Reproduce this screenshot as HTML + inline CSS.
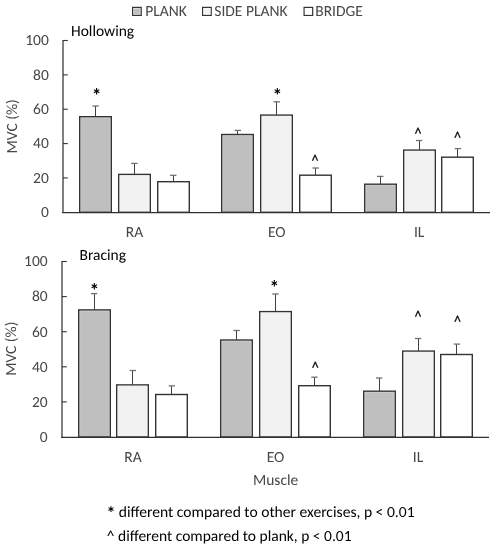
<!DOCTYPE html><html><head><meta charset="utf-8"><style>html,body{margin:0;padding:0;background:#fff;}svg{display:block;text-rendering:geometricPrecision}</style></head><body>
<svg width="495" height="550" viewBox="0 0 495 550" font-family='"Carlito", "Liberation Sans", sans-serif'>
<rect width="495" height="550" fill="#fff"/>
<rect x="132.6" y="7.4" width="8.6" height="8" fill="#bfbfbf" stroke="#333" stroke-width="1.2"/>
<rect x="133.70" y="8.5" width="6.4" height="5.8" fill="none" stroke="#fff" stroke-width="0.7" opacity="0.6"/>
<text textLength="41.56" lengthAdjust="spacingAndGlyphs" transform="translate(145.30 15.50) scale(1 1.0)" font-size="15.5" fill="#474747">PLANK</text>
<rect x="202.6" y="7.4" width="8.6" height="8" fill="#f2f2f2" stroke="#333" stroke-width="1.2"/>
<rect x="203.70" y="8.5" width="6.4" height="5.8" fill="none" stroke="#fff" stroke-width="0.7" opacity="0.6"/>
<text textLength="73.19" lengthAdjust="spacingAndGlyphs" transform="translate(214.30 15.50) scale(1 1.0)" font-size="15.5" fill="#474747">SIDE PLANK</text>
<rect x="304.1" y="7.4" width="8.6" height="8" fill="#ffffff" stroke="#333" stroke-width="1.2"/>
<rect x="305.20" y="8.5" width="6.4" height="5.8" fill="none" stroke="#fff" stroke-width="0.7" opacity="0.6"/>
<text textLength="47.64" lengthAdjust="spacingAndGlyphs" transform="translate(315.20 15.50) scale(1 1.0)" font-size="15.5" fill="#474747">BRIDGE</text>
<text textLength="7.86" lengthAdjust="spacingAndGlyphs" transform="translate(48.80 217.10) scale(1 1.0)" font-size="15.5" fill="#474747" text-anchor="end">0</text>
<text textLength="15.72" lengthAdjust="spacingAndGlyphs" transform="translate(48.80 182.74) scale(1 1.0)" font-size="15.5" fill="#474747" text-anchor="end">20</text>
<text textLength="15.72" lengthAdjust="spacingAndGlyphs" transform="translate(48.80 148.38) scale(1 1.0)" font-size="15.5" fill="#474747" text-anchor="end">40</text>
<text textLength="15.72" lengthAdjust="spacingAndGlyphs" transform="translate(48.80 114.02) scale(1 1.0)" font-size="15.5" fill="#474747" text-anchor="end">60</text>
<text textLength="15.72" lengthAdjust="spacingAndGlyphs" transform="translate(48.80 79.66) scale(1 1.0)" font-size="15.5" fill="#474747" text-anchor="end">80</text>
<text textLength="23.58" lengthAdjust="spacingAndGlyphs" transform="translate(48.80 45.30) scale(1 1.0)" font-size="15.5" fill="#474747" text-anchor="end">100</text>
<line x1="63.0" x2="63.0" y1="39.90" y2="212.90" stroke="#7a7a7a" stroke-width="1.9"/>
<line x1="63.0" x2="67.8" y1="177.94" y2="177.94" stroke="#333" stroke-width="1.1"/>
<line x1="63.0" x2="67.8" y1="143.58" y2="143.58" stroke="#333" stroke-width="1.1"/>
<line x1="63.0" x2="67.8" y1="109.22" y2="109.22" stroke="#333" stroke-width="1.1"/>
<line x1="63.0" x2="67.8" y1="74.86" y2="74.86" stroke="#333" stroke-width="1.1"/>
<line x1="63.0" x2="67.8" y1="40.50" y2="40.50" stroke="#333" stroke-width="1.1"/>
<line x1="95.50" x2="95.50" y1="106.00" y2="116.50" stroke="#404040" stroke-width="1.0"/>
<line x1="92.35" x2="98.75" y1="106.00" y2="106.00" stroke="#707070" stroke-width="1.3"/>
<rect x="79.70" y="116.70" width="31.60" height="95.60" fill="#bfbfbf" stroke="#333" stroke-width="1.4"/>
<path d="M80.80 211.70V117.80H110.20V211.70" fill="none" stroke="#fff" stroke-width="0.8" opacity="0.3"/>
<line x1="134.50" x2="134.50" y1="163.40" y2="174.20" stroke="#404040" stroke-width="1.0"/>
<line x1="131.20" x2="137.60" y1="163.40" y2="163.40" stroke="#707070" stroke-width="1.3"/>
<rect x="118.70" y="174.40" width="31.60" height="37.90" fill="#f2f2f2" stroke="#333" stroke-width="1.4"/>
<path d="M119.80 211.70V175.50H149.20V211.70" fill="none" stroke="#fff" stroke-width="0.8" opacity="0.3"/>
<line x1="173.50" x2="173.50" y1="175.30" y2="181.50" stroke="#404040" stroke-width="1.0"/>
<line x1="170.05" x2="176.45" y1="175.30" y2="175.30" stroke="#707070" stroke-width="1.3"/>
<rect x="157.70" y="181.70" width="31.60" height="30.60" fill="#ffffff" stroke="#333" stroke-width="1.4"/>
<text textLength="17.39" lengthAdjust="spacingAndGlyphs" transform="translate(134.40 236.90) scale(1 1.0)" font-size="15.5" fill="#474747" text-anchor="middle">RA</text>
<line x1="237.50" x2="237.50" y1="130.40" y2="134.30" stroke="#404040" stroke-width="1.0"/>
<line x1="234.70" x2="241.10" y1="130.40" y2="130.40" stroke="#707070" stroke-width="1.3"/>
<rect x="221.70" y="134.50" width="31.60" height="77.80" fill="#bfbfbf" stroke="#333" stroke-width="1.4"/>
<path d="M222.80 211.70V135.60H252.20V211.70" fill="none" stroke="#fff" stroke-width="0.8" opacity="0.3"/>
<line x1="276.50" x2="276.50" y1="101.80" y2="114.90" stroke="#404040" stroke-width="1.0"/>
<line x1="273.55" x2="279.95" y1="101.80" y2="101.80" stroke="#707070" stroke-width="1.3"/>
<rect x="260.70" y="115.10" width="31.60" height="97.20" fill="#f2f2f2" stroke="#333" stroke-width="1.4"/>
<path d="M261.80 211.70V116.20H291.20V211.70" fill="none" stroke="#fff" stroke-width="0.8" opacity="0.3"/>
<line x1="315.50" x2="315.50" y1="168.00" y2="175.00" stroke="#404040" stroke-width="1.0"/>
<line x1="312.40" x2="318.80" y1="168.00" y2="168.00" stroke="#707070" stroke-width="1.3"/>
<rect x="299.70" y="175.20" width="31.60" height="37.10" fill="#ffffff" stroke="#333" stroke-width="1.4"/>
<text textLength="17.59" lengthAdjust="spacingAndGlyphs" transform="translate(276.75 236.90) scale(1 1.0)" font-size="15.5" fill="#474747" text-anchor="middle">EO</text>
<line x1="380.50" x2="380.50" y1="176.40" y2="184.00" stroke="#404040" stroke-width="1.0"/>
<line x1="377.05" x2="383.45" y1="176.40" y2="176.40" stroke="#707070" stroke-width="1.3"/>
<rect x="364.70" y="184.20" width="31.60" height="28.10" fill="#bfbfbf" stroke="#333" stroke-width="1.4"/>
<path d="M365.80 211.70V185.30H395.20V211.70" fill="none" stroke="#fff" stroke-width="0.8" opacity="0.3"/>
<line x1="419.50" x2="419.50" y1="140.50" y2="149.90" stroke="#404040" stroke-width="1.0"/>
<line x1="415.90" x2="422.30" y1="140.50" y2="140.50" stroke="#707070" stroke-width="1.3"/>
<rect x="403.70" y="150.10" width="31.60" height="62.20" fill="#f2f2f2" stroke="#333" stroke-width="1.4"/>
<path d="M404.80 211.70V151.20H434.20V211.70" fill="none" stroke="#fff" stroke-width="0.8" opacity="0.3"/>
<line x1="457.50" x2="457.50" y1="148.60" y2="157.00" stroke="#404040" stroke-width="1.0"/>
<line x1="454.75" x2="461.15" y1="148.60" y2="148.60" stroke="#707070" stroke-width="1.3"/>
<rect x="441.70" y="157.20" width="31.60" height="55.10" fill="#ffffff" stroke="#333" stroke-width="1.4"/>
<text textLength="10.42" lengthAdjust="spacingAndGlyphs" transform="translate(419.10 236.90) scale(1 1.0)" font-size="15.5" fill="#474747" text-anchor="middle">IL</text>
<text textLength="9.72" lengthAdjust="spacingAndGlyphs" x="96.50" y="102.30" font-size="19.5" font-weight="bold" fill="#000" text-anchor="middle">*</text>
<text textLength="9.72" lengthAdjust="spacingAndGlyphs" x="277.40" y="102.20" font-size="19.5" font-weight="bold" fill="#000" text-anchor="middle">*</text>
<text textLength="7.97" lengthAdjust="spacingAndGlyphs" transform="translate(315.10 166.40) scale(0.88 1.05)" font-size="16" stroke="#000" stroke-width="0.3" fill="#000" text-anchor="middle">^</text>
<text textLength="7.97" lengthAdjust="spacingAndGlyphs" transform="translate(417.90 138.80) scale(0.88 1.05)" font-size="16" stroke="#000" stroke-width="0.3" fill="#000" text-anchor="middle">^</text>
<text textLength="7.97" lengthAdjust="spacingAndGlyphs" transform="translate(457.40 143.10) scale(0.88 1.05)" font-size="16" stroke="#000" stroke-width="0.3" fill="#000" text-anchor="middle">^</text>
<line x1="62.1" x2="490" y1="212.55" y2="212.55" stroke="#303030" stroke-width="1.25"/>
<text textLength="63.14" lengthAdjust="spacingAndGlyphs" transform="translate(71.00 36.00) scale(1 1.0)" font-size="15.5" fill="#000">Hollowing</text>
<text textLength="54.17" lengthAdjust="spacingAndGlyphs" transform="translate(17.2 126.40) rotate(-90) scale(1 1.0)" x="0" y="0" font-size="15.5" fill="#474747" text-anchor="middle">MVC (%)</text>
<text textLength="7.86" lengthAdjust="spacingAndGlyphs" transform="translate(47.60 441.80) scale(1 1.0)" font-size="15.5" fill="#474747" text-anchor="end">0</text>
<text textLength="15.72" lengthAdjust="spacingAndGlyphs" transform="translate(47.60 406.70) scale(1 1.0)" font-size="15.5" fill="#474747" text-anchor="end">20</text>
<text textLength="15.72" lengthAdjust="spacingAndGlyphs" transform="translate(47.60 371.60) scale(1 1.0)" font-size="15.5" fill="#474747" text-anchor="end">40</text>
<text textLength="15.72" lengthAdjust="spacingAndGlyphs" transform="translate(47.60 336.50) scale(1 1.0)" font-size="15.5" fill="#474747" text-anchor="end">60</text>
<text textLength="15.72" lengthAdjust="spacingAndGlyphs" transform="translate(47.60 301.40) scale(1 1.0)" font-size="15.5" fill="#474747" text-anchor="end">80</text>
<text textLength="23.58" lengthAdjust="spacingAndGlyphs" transform="translate(47.60 266.30) scale(1 1.0)" font-size="15.5" fill="#474747" text-anchor="end">100</text>
<line x1="62.0" x2="62.0" y1="260.90" y2="437.60" stroke="#7a7a7a" stroke-width="1.9"/>
<line x1="62.0" x2="66.8" y1="401.90" y2="401.90" stroke="#333" stroke-width="1.1"/>
<line x1="62.0" x2="66.8" y1="366.80" y2="366.80" stroke="#333" stroke-width="1.1"/>
<line x1="62.0" x2="66.8" y1="331.70" y2="331.70" stroke="#333" stroke-width="1.1"/>
<line x1="62.0" x2="66.8" y1="296.60" y2="296.60" stroke="#333" stroke-width="1.1"/>
<line x1="62.0" x2="66.8" y1="261.50" y2="261.50" stroke="#333" stroke-width="1.1"/>
<line x1="94.50" x2="94.50" y1="293.60" y2="309.70" stroke="#404040" stroke-width="1.0"/>
<line x1="90.85" x2="97.25" y1="293.60" y2="293.60" stroke="#707070" stroke-width="1.3"/>
<rect x="78.70" y="309.90" width="31.60" height="127.10" fill="#bfbfbf" stroke="#333" stroke-width="1.4"/>
<path d="M79.80 436.40V311.00H109.20V436.40" fill="none" stroke="#fff" stroke-width="0.8" opacity="0.3"/>
<line x1="132.50" x2="132.50" y1="370.50" y2="384.70" stroke="#404040" stroke-width="1.0"/>
<line x1="129.75" x2="136.15" y1="370.50" y2="370.50" stroke="#707070" stroke-width="1.3"/>
<rect x="116.70" y="384.90" width="31.60" height="52.10" fill="#f2f2f2" stroke="#333" stroke-width="1.4"/>
<path d="M117.80 436.40V386.00H147.20V436.40" fill="none" stroke="#fff" stroke-width="0.8" opacity="0.3"/>
<line x1="171.50" x2="171.50" y1="385.90" y2="394.30" stroke="#404040" stroke-width="1.0"/>
<line x1="168.65" x2="175.05" y1="385.90" y2="385.90" stroke="#707070" stroke-width="1.3"/>
<rect x="155.70" y="394.50" width="31.60" height="42.50" fill="#ffffff" stroke="#333" stroke-width="1.4"/>
<text textLength="17.39" lengthAdjust="spacingAndGlyphs" transform="translate(132.95 461.90) scale(1 1.0)" font-size="15.5" fill="#474747" text-anchor="middle">RA</text>
<line x1="236.50" x2="236.50" y1="330.50" y2="339.80" stroke="#404040" stroke-width="1.0"/>
<line x1="233.40" x2="239.80" y1="330.50" y2="330.50" stroke="#707070" stroke-width="1.3"/>
<rect x="220.70" y="340.00" width="31.60" height="97.00" fill="#bfbfbf" stroke="#333" stroke-width="1.4"/>
<path d="M221.80 436.40V341.10H251.20V436.40" fill="none" stroke="#fff" stroke-width="0.8" opacity="0.3"/>
<line x1="275.50" x2="275.50" y1="294.00" y2="311.40" stroke="#404040" stroke-width="1.0"/>
<line x1="272.30" x2="278.70" y1="294.00" y2="294.00" stroke="#707070" stroke-width="1.3"/>
<rect x="259.70" y="311.60" width="31.60" height="125.40" fill="#f2f2f2" stroke="#333" stroke-width="1.4"/>
<path d="M260.80 436.40V312.70H290.20V436.40" fill="none" stroke="#fff" stroke-width="0.8" opacity="0.3"/>
<line x1="314.50" x2="314.50" y1="377.20" y2="385.50" stroke="#404040" stroke-width="1.0"/>
<line x1="311.20" x2="317.60" y1="377.20" y2="377.20" stroke="#707070" stroke-width="1.3"/>
<rect x="298.70" y="385.70" width="31.60" height="51.30" fill="#ffffff" stroke="#333" stroke-width="1.4"/>
<text textLength="17.59" lengthAdjust="spacingAndGlyphs" transform="translate(275.50 461.90) scale(1 1.0)" font-size="15.5" fill="#474747" text-anchor="middle">EO</text>
<line x1="379.50" x2="379.50" y1="378.00" y2="391.00" stroke="#404040" stroke-width="1.0"/>
<line x1="375.95" x2="382.35" y1="378.00" y2="378.00" stroke="#707070" stroke-width="1.3"/>
<rect x="363.70" y="391.20" width="31.60" height="45.80" fill="#bfbfbf" stroke="#333" stroke-width="1.4"/>
<path d="M364.80 436.40V392.30H394.20V436.40" fill="none" stroke="#fff" stroke-width="0.8" opacity="0.3"/>
<line x1="418.50" x2="418.50" y1="338.50" y2="350.90" stroke="#404040" stroke-width="1.0"/>
<line x1="414.85" x2="421.25" y1="338.50" y2="338.50" stroke="#707070" stroke-width="1.3"/>
<rect x="402.70" y="351.10" width="31.60" height="85.90" fill="#f2f2f2" stroke="#333" stroke-width="1.4"/>
<path d="M403.80 436.40V352.20H433.20V436.40" fill="none" stroke="#fff" stroke-width="0.8" opacity="0.3"/>
<line x1="456.50" x2="456.50" y1="344.10" y2="354.30" stroke="#404040" stroke-width="1.0"/>
<line x1="453.75" x2="460.15" y1="344.10" y2="344.10" stroke="#707070" stroke-width="1.3"/>
<rect x="440.70" y="354.50" width="31.60" height="82.50" fill="#ffffff" stroke="#333" stroke-width="1.4"/>
<text textLength="10.42" lengthAdjust="spacingAndGlyphs" transform="translate(418.05 461.90) scale(1 1.0)" font-size="15.5" fill="#474747" text-anchor="middle">IL</text>
<text textLength="9.72" lengthAdjust="spacingAndGlyphs" x="94.30" y="297.40" font-size="19.5" font-weight="bold" fill="#000" text-anchor="middle">*</text>
<text textLength="9.72" lengthAdjust="spacingAndGlyphs" x="274.40" y="294.00" font-size="19.5" font-weight="bold" fill="#000" text-anchor="middle">*</text>
<text textLength="7.97" lengthAdjust="spacingAndGlyphs" transform="translate(315.20 373.30) scale(0.88 1.05)" font-size="16" stroke="#000" stroke-width="0.3" fill="#000" text-anchor="middle">^</text>
<text textLength="7.97" lengthAdjust="spacingAndGlyphs" transform="translate(418.00 321.70) scale(0.88 1.05)" font-size="16" stroke="#000" stroke-width="0.3" fill="#000" text-anchor="middle">^</text>
<text textLength="7.97" lengthAdjust="spacingAndGlyphs" transform="translate(457.40 326.50) scale(0.88 1.05)" font-size="16" stroke="#000" stroke-width="0.3" fill="#000" text-anchor="middle">^</text>
<line x1="61.1" x2="489" y1="437.25" y2="437.25" stroke="#303030" stroke-width="1.25"/>
<text textLength="46.50" lengthAdjust="spacingAndGlyphs" transform="translate(79.50 260.20) scale(1 1.0)" font-size="15.5" fill="#000">Bracing</text>
<text textLength="54.17" lengthAdjust="spacingAndGlyphs" transform="translate(16.3 348.75) rotate(-90) scale(1 1.0)" x="0" y="0" font-size="15.5" fill="#474747" text-anchor="middle">MVC (%)</text>
<text textLength="45.30" lengthAdjust="spacingAndGlyphs" transform="translate(275.60 485.00) scale(1 1.0)" font-size="15.5" fill="#474747" text-anchor="middle">Muscle</text>
<text textLength="8.97" lengthAdjust="spacingAndGlyphs" x="106.6" y="518.6" font-size="18" font-weight="bold" fill="#000">*</text>
<text textLength="295.77" lengthAdjust="spacingAndGlyphs" transform="translate(118.80 517.00) scale(1 1.0)" font-size="15.6" fill="#000">different compared to other exercises, p &lt; 0.01</text>
<text textLength="244.78" lengthAdjust="spacingAndGlyphs" transform="translate(106.80 541.40) scale(1 1.0)" font-size="15.5" fill="#000">^ different compared to plank, p &lt; 0.01</text>
</svg></body></html>
